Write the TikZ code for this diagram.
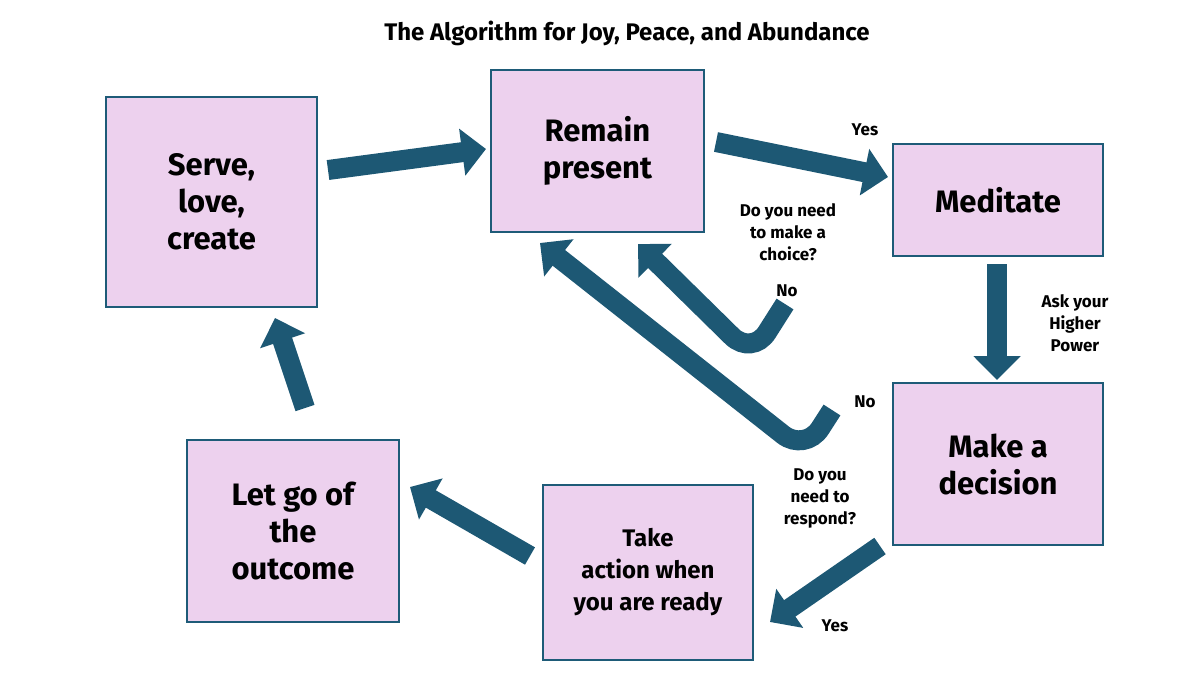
\documentclass[tikz,border=0pt]{standalone}
\usepackage{fontspec}
\setmainfont{Fira Sans}
\usetikzlibrary{arrows.meta}
\definecolor{boxfill}{HTML}{EDD1EE}
\definecolor{boxline}{HTML}{1E5B78}
\definecolor{flow}{HTML}{1D5874}
\tikzset{
  stepbox/.style={draw=boxline, line width=2pt, fill=boxfill, font=\bfseries\fontsize{31}{37}\selectfont, align=center},
  flowarrow/.style={draw=flow, line width=20pt, -{Triangle[length=24pt,width=46pt]}},
  note/.style={font=\bfseries\fontsize{17}{22}\selectfont, align=center}
}
\begin{document}
\begin{tikzpicture}[x=1pt, y=-1pt]
\useasboundingbox (0,0) rectangle (1200,675);
% Title
\node[font=\bfseries\fontsize{24}{28}\selectfont] (title) at (627,33) {The Algorithm for Joy, Peace, and Abundance};
% Boxes
\node[stepbox, minimum width=211pt, minimum height=210pt] (serve) at (211.5,202) {Serve,\\love,\\create};
\node[stepbox, minimum width=213pt, minimum height=162pt] (remain) at (597.5,151) {Remain\\present};
\node[stepbox, minimum width=210pt, minimum height=112pt] (meditate) at (998,200) {Meditate};
\node[stepbox, minimum width=210pt, minimum height=162pt] (decide) at (998,464) {Make a\\decision};
\node[stepbox, minimum width=210pt, minimum height=175pt, font=\bfseries\fontsize{24}{32}\selectfont] (act) at (648,572.5) {Take\\action when\\you are ready};
\node[stepbox, minimum width=212pt, minimum height=182pt] (letgo) at (293,531) {Let go of\\the\\outcome};
% Arrow ends
\coordinate (a1) at (328,170); \coordinate (b1) at (486,149);
\coordinate (a2) at (716,142); \coordinate (b2) at (888,177);
\coordinate (a3) at (997,264); \coordinate (b3) at (997,380);
\coordinate (a4) at (880,546); \coordinate (b4) at (770,622);
\coordinate (a5) at (530,556); \coordinate (b5) at (410,487);
\coordinate (a6) at (305,408); \coordinate (b6) at (275,318);
\coordinate (u1) at (785,304); \coordinate (c1) at (752,356); \coordinate (v1) at (638,244);
\coordinate (u2) at (832,410); \coordinate (c2) at (805,452); \coordinate (v2) at (540,243);
% Arrows
\draw[flowarrow] (a1) -- (b1);
\draw[flowarrow] (a2) -- (b2);
\draw[flowarrow] (a3) -- (b3);
\draw[flowarrow] (a4) -- (b4);
\draw[flowarrow] (a5) -- (b5);
\draw[flowarrow] (a6) -- (b6);
\draw[flowarrow, rounded corners=28pt] (u1) -- (c1) -- (v1);
\draw[flowarrow, rounded corners=28pt] (u2) -- (c2) -- (v2);
% Labels
\node[note] (yes1) at (865,130) {Yes};
\node[note] (choice) at (788,232) {Do you need\\to make a\\choice?};
\node[note] (no1) at (787,291) {No};
\node[note] (ask) at (1075,323) {Ask your\\Higher\\Power};
\node[note] (no2) at (865,402) {No};
\node[note] (respond) at (820,498) {Do you\\need to\\respond?};
\node[note] (yes2) at (835,626) {Yes};
\end{tikzpicture}
\end{document}
